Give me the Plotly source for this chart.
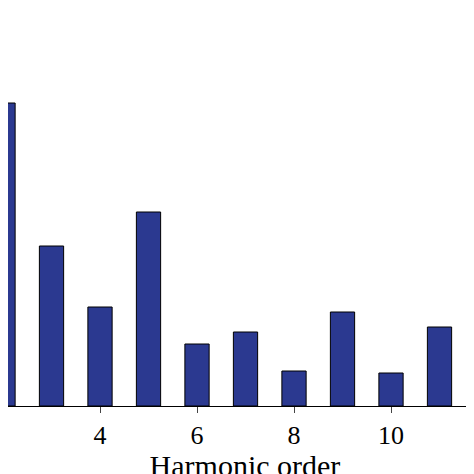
import plotly.graph_objects as go

orders = [2, 3, 4, 5, 6, 7, 8, 9, 10, 11, 12]
amplitude = [30.3, 16.0, 9.9, 19.4, 6.2, 7.4, 3.5, 9.4, 3.3, 7.9, 3.5]
tick_vals = [2, 4, 6, 8, 10, 12]

fig = go.Figure()
fig.add_bar(x=orders, y=amplitude, width=0.5,
            marker=dict(color="#2b3990", line=dict(color="black", width=1)))

fig.update_xaxes(range=[2.103, 11.876], tickvals=tick_vals, ticks="outside",
                 ticklen=6, showline=True, linecolor="black", showgrid=False,
                 automargin=False,
                 title=dict(text="Harmonic order", standoff=6,
                            font=dict(size=30, family="Liberation Serif", color="black")),
                 tickfont=dict(size=26, family="Liberation Serif", color="black"))
fig.update_yaxes(range=[0, 39.8], showticklabels=False, showgrid=False,
                 zeroline=False, showline=False, automargin=False)
fig.update_layout(width=474, height=474, showlegend=False,
                  plot_bgcolor="white", paper_bgcolor="white",
                  margin=dict(l=0, r=0, t=0, b=76, autoexpand=False))
fig.write_html("out.html")
